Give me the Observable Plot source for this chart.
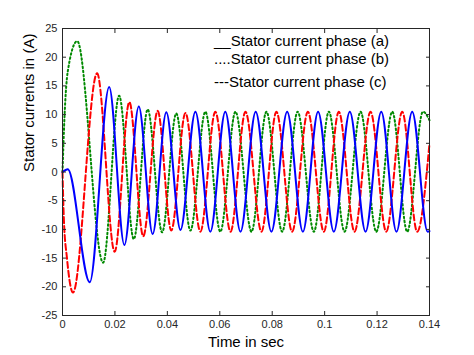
<!DOCTYPE html>
<html><head><meta charset="utf-8">
<script src="https://cdn.jsdelivr.net/npm/d3@7"></script>
<script src="https://cdn.jsdelivr.net/npm/@observablehq/plot@0.6"></script>
<style>
html,body{margin:0;padding:0;background:#fff;}
#chart{width:474px;height:355px;}
</style></head><body><div id="chart"></div>
<script>
// Phase (a) - blue solid
const timeA  = [0, 0.0020, 0.0104, 0.0178, 0.0236, 0.0291, 0.0344, 0.0396, 0.0450, 0.0507, 0.0564, 0.0621, 0.0679, 0.0737, 0.0797, 0.0857, 0.0917, 0.0975, 0.1035, 0.1096, 0.1156, 0.1216, 0.1274, 0.1334, 0.1393, 0.14];
const phaseA = [0, 0.5, -19.2, 14.8, -12.7, 11.4, -10.8, 10.4, -10.1, 10.5, -10.4, 10.5, -10.4, 10.5, -10.4, 10.5, -10.4, 10.5, -10.4, 10.5, -10.4, 10.5, -10.4, 10.5, -10.4, -10.3];
// Phase (b) - green dotted
const timeB  = [0, 0.0008, 0.0020, 0.0056, 0.0155, 0.0216, 0.0272, 0.0325, 0.0380, 0.0434, 0.0488, 0.0545, 0.0602, 0.0660, 0.0721, 0.0778, 0.0838, 0.0897, 0.0959, 0.1016, 0.1076, 0.1137, 0.1197, 0.1258, 0.1315, 0.1375, 0.14];
const phaseB = [0, 10, 17.5, 22.8, -15.8, 13.3, -11.7, 10.9, -10.5, 10.2, -10.2, 10.5, -10.4, 10.5, -10.4, 10.5, -10.4, 10.5, -10.4, 10.5, -10.4, 10.5, -10.4, 10.5, -10.4, 10.5, 9.0];
// Phase (c) - red dashed
const timeC  = [0, 0.0005, 0.0017, 0.0040, 0.0132, 0.0199, 0.0255, 0.0308, 0.0363, 0.0415, 0.0469, 0.0526, 0.0583, 0.0641, 0.0698, 0.0759, 0.0816, 0.0876, 0.0936, 0.0997, 0.1054, 0.1114, 0.1175, 0.1235, 0.1296, 0.1353, 0.14];
const phaseC = [0, -8, -15, -21, 17.2, -13.9, 12.2, -11.2, 10.65, -10.2, 10.3, -10.4, 10.5, -10.4, 10.5, -10.4, 10.5, -10.4, 10.5, -10.4, 10.5, -10.4, 10.5, -10.4, 10.5, -10.4, 5];

const xTicks = [0, 0.02, 0.04, 0.06, 0.08, 0.1, 0.12, 0.14];
const xTickLabels = ["0", "0.02", "0.04", "0.06", "0.08", "0.1", "0.12", "0.14"];
const yTicks = [-25, -20, -15, -10, -5, 0, 5, 10, 15, 20, 25];
const yTickLabels = ["-25", "-20", "-15", "-10", "-5", "0", "5", "10", "15", "20", "25"];
const legendLabels = ["__Stator current phase (a)", "....Stator current phase (b)", "---Stator current phase (c)"];
const xTitle = "Time in sec";
const yTitle = "Stator currents in (A)";

const rows = (t, v) => t.map((x, i) => ({t: x, v: v[i]}));
const legendDy = [17, 35.5, 58];

const chart = Plot.plot({
  width: 474, height: 355,
  marginLeft: 62, marginRight: 45, marginTop: 28, marginBottom: 40,
  style: {fontFamily: "'Liberation Sans', Arial, sans-serif", fontSize: "11px", color: "#262626", background: "#fff"},
  x: {domain: [0, 0.14]},
  y: {domain: [-25, 25]},
  marks: [
    Plot.line(rows(timeB, phaseB), {x: "t", y: "v", stroke: "#008a00", strokeWidth: 2, strokeDasharray: "1.6,2.6", curve: "monotone-x"}),
    Plot.line(rows(timeC, phaseC), {x: "t", y: "v", stroke: "#ff0000", strokeWidth: 2, strokeDasharray: "6,3", curve: "monotone-x"}),
    Plot.line(rows(timeA, phaseA), {x: "t", y: "v", stroke: "#0000ff", strokeWidth: 2, curve: "monotone-x"}),
    Plot.frame({stroke: "#262626"}),
    Plot.axisX({anchor: "bottom", ticks: xTicks, tickSize: -4, tickPadding: 9, tickFormat: d => xTickLabels[xTicks.indexOf(d)], label: null}),
    Plot.axisX({anchor: "top", ticks: xTicks, tickSize: -4, fill: "none", label: null}),
    Plot.axisY({anchor: "left", ticks: yTicks, tickSize: -4, tickPadding: 9, tickFormat: d => yTickLabels[yTicks.indexOf(d)], label: null}),
    Plot.axisY({anchor: "right", ticks: yTicks, tickSize: -4, fill: "none", label: null}),
    Plot.text([xTitle], {frameAnchor: "bottom", dy: 27, fontSize: 15, fill: "#000", lineAnchor: "middle"}),
    Plot.text([yTitle], {frameAnchor: "left", rotate: -90, dx: -33, fontSize: 15, fill: "#000", lineAnchor: "middle"}),
    ...legendLabels.map((s, i) => Plot.text([s], {frameAnchor: "top-left", dx: 151.5, dy: legendDy[i], fontSize: 15, fill: "#000", textAnchor: "start", lineAnchor: "bottom"}))
  ]
});
document.getElementById("chart").appendChild(chart);
</script>
</body></html>
